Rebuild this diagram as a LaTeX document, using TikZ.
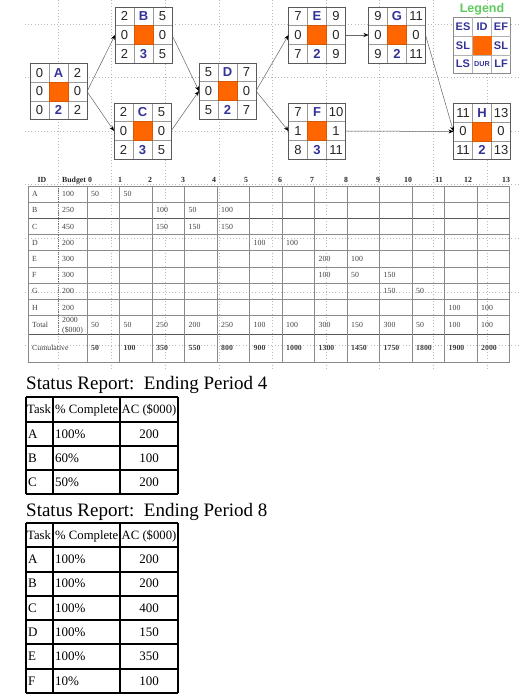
\documentclass[tikz,border=0pt]{standalone}
\usepackage{fontspec}
\setmainfont{Liberation Serif}
\newfontfamily\arialf{Liberation Sans}
\usetikzlibrary{arrows.meta}
\definecolor{pertorange}{HTML}{FF6600}
\definecolor{pertblue}{HTML}{333399}
\definecolor{lgdgreen}{HTML}{5DCB5D}
\definecolor{gridgray}{HTML}{B8B8B8}
\definecolor{tabline}{HTML}{8A8A8A}
\tikzset{
  gridln/.style={draw=gridgray, line width=0.6pt, dash pattern=on 0.8pt off 2.4pt},
  pbox/.style={draw=black!65, line width=0.8pt, fill=white, minimum width=57pt, minimum height=56pt, inner sep=0pt, outer sep=0pt},
  pline/.style={draw=black!40, line width=0.6pt},
  pcore/.style={fill=pertorange, draw=pertorange!85!black, line width=0.4pt},
  ptxt/.style={font=\arialf\fontsize{13}{13}\selectfont, text=black!85, inner sep=0pt},
  pid/.style={font=\arialf\bfseries\fontsize{13}{13}\selectfont, text=pertblue, inner sep=0pt},
  ltxt/.style={font=\arialf\bfseries\fontsize{11}{11}\selectfont, text=pertblue, inner sep=0pt},
  arr/.style={draw=black!60, line width=0.5pt, -{Stealth[length=5pt,width=4pt,black]}},
  tline/.style={draw=tabline, line width=0.6pt},
  tdark/.style={draw=black!65, line width=0.7pt},
  tt/.style={font=\fontsize{7.8}{8.5}\selectfont, text=black!75, inner sep=0pt, anchor=west, text height=5.2pt, text depth=0pt},
  ttb/.style={tt, font=\bfseries\fontsize{7.8}{8.5}\selectfont},
  th/.style={font=\bfseries\fontsize{7.8}{8.5}\selectfont, text=black!85, inner sep=0pt, anchor=base},
  stl/.style={draw=black, line width=1.2pt},
  st/.style={font=\fontsize{13}{15}\selectfont, inner sep=0pt, text height=8.6pt, text depth=0pt},
  sth/.style={font=\fontsize{12.7}{15}\selectfont, inner sep=0pt, text height=8.4pt, text depth=0pt, anchor=west},
  ttl/.style={font=\fontsize{19}{22}\selectfont, inner sep=0pt, anchor=base west},
}
% #1 name, #2 x,y, #3 ES, #4 ID, #5 EF, #6 SL, #7 LS, #8 DUR, #9 LF
\newcommand\pertnode[9]{%
  \node[pbox] (#1) at (#2) {};
  \draw[pline] (#2) ++(-9.5,-28) -- ++(0,56);
  \draw[pline] (#2) ++(9.5,-28) -- ++(0,56);
  \draw[pline] (#2) ++(-28.5,-9.33) -- ++(57,0);
  \draw[pline] (#2) ++(-28.5,9.33) -- ++(57,0);
  \draw[black!65, line width=0.8pt] (#2) ++(-28.5,-28) rectangle ++(57,56);
  \filldraw[pcore] (#2) ++(-9.5,-9.33) rectangle ++(19,18.67);
  \path (#2) ++(-19,-18.67) node[ptxt] (#1-es) {#3};
  \path (#2) ++(0,-18.67) node[pid] (#1-id) {#4};
  \path (#2) ++(19,-18.67) node[ptxt] (#1-ef) {#5};
  \path (#2) ++(-19,0) node[ptxt] (#1-sl) {#6};
  \path (#2) ++(19,0) node[ptxt] (#1-sr) {#6};
  \path (#2) ++(-19,18.67) node[ptxt] (#1-ls) {#7};
  \path (#2) ++(0,18.67) node[pid] (#1-du) {#8};
  \path (#2) ++(19,18.67) node[ptxt] (#1-lf) {#9};
}
\begin{document}
\begin{tikzpicture}[x=1pt,y=-1pt]
\useasboundingbox (0,0) rectangle (520,700);
\fill[white] (0,0) rectangle (520,700);
% background grid
\foreach \gx in {58,111.6,165.2,218.8,272.4,326,379.6,433.2,486.8}
  \draw[gridln] (\gx,0) -- (\gx,370);
\foreach \gy in {24,77.6,131.2,184.8,238.4,292,345.6}
  \draw[gridln] (25,\gy) -- (520,\gy);
% network
\pertnode{A}{58.5,91.5}{0}{A}{2}{0}{0}{2}{2}
\pertnode{B}{143.5,35}{2}{B}{5}{0}{2}{3}{5}
\pertnode{C}{142.5,131}{2}{C}{5}{0}{2}{3}{5}
\pertnode{D}{227.5,91}{5}{D}{7}{0}{5}{2}{7}
\pertnode{E}{317,35}{7}{E}{9}{0}{7}{2}{9}
\pertnode{G}{397,35}{9}{G}{11}{0}{9}{2}{11}
\pertnode{F}{317,131}{7}{F}{10}{1}{8}{3}{11}
\pertnode{H}{482,131.5}{11}{H}{13}{0}{11}{2}{13}
\draw[arr] (A.east) -- (B.west);
\draw[arr] (A.east) -- (C.west);
\draw[arr] (B.east) -- (D.west);
\draw[arr] (C.east) -- (D.west);
\draw[arr] (D.east) -- (E.west);
\draw[arr] (D.east) -- (F.west);
\draw[arr] (E.east) -- (G.west);
\draw[arr] (G.east) -- (H.west);
\draw[arr] (F.east) -- (H.west);
% legend
\node[font=\arialf\bfseries\fontsize{12.5}{12.5}\selectfont, text=lgdgreen, inner sep=0pt] (lgdtitle) at (482,9) {Legend};
\node[pbox, draw=black!45] (L) at (482,45.5) {};
\draw[pline, draw=black!30] (L.center) ++(-9.5,-28) -- ++(0,56);
\draw[pline, draw=black!30] (L.center) ++(9.5,-28) -- ++(0,56);
\draw[pline, draw=black!30] (L.center) ++(-28.5,-9.33) -- ++(57,0);
\draw[pline, draw=black!30] (L.center) ++(-28.5,9.33) -- ++(57,0);
\fill[pertorange] (L.center) ++(-9.5,-9.33) rectangle ++(19,18.67);
\path (L.center) ++(-19,-18.67) node[ltxt] (L-es) {ES};
\path (L.center) ++(0,-18.67) node[ltxt] (L-id) {ID};
\path (L.center) ++(19,-18.67) node[ltxt] (L-ef) {EF};
\path (L.center) ++(-19,0) node[ltxt] (L-sl) {SL};
\path (L.center) ++(19,0) node[ltxt] (L-sr) {SL};
\path (L.center) ++(-19,18.67) node[ltxt] (L-ls) {LS};
\path (L.center) ++(0,18.67) node[ltxt, font=\arialf\bfseries\fontsize{7.2}{7.2}\selectfont] (L-du) {DUR};
\path (L.center) ++(19,18.67) node[ltxt] (L-lf) {LF};
% budget table
\foreach \ty in {186,202.2,218.4,234.6,250.8,267,283.2,299.4,315.6,362}
  \draw[tline] (28,\ty) -- (509.5,\ty);
\draw[tdark] (28,218.4) -- (509.5,218.4);
\draw[tdark] (28,334) -- (509.5,334);
\foreach \tx in {28,87,119.5,152,184.5,217,249.5,282,314.5,347,379.5,412,444.5,477,509.5}
  \draw[tline] (\tx,186) -- (\tx,362);
\draw[draw=black!55, line width=0.6pt, dash pattern=on 1.2pt off 1pt] (58,186) -- (58,334);
% header
\node[th] (h-id) at (42,183) {ID};
\node[th, anchor=base west] (h-bud) at (62,183) {Budget};
\node[th] (h-0) at (90,183) {0};
\foreach \hx [count=\hc] in {120,150,183,214,246,280,312,346,378,408,439,468,506}
  \node[th] (h-\hc) at (\hx,183) {\hc};
% rows
\foreach \r/\lab/\bud/\vals in {
  1/A/100/{1/50,2/50},
  2/B/250/{3/100,4/50,5/100},
  3/C/450/{3/150,4/150,5/150},
  4/D/200/{6/100,7/100},
  5/E/300/{8/200,9/100},
  6/F/300/{8/100,9/50,10/150},
  7/G/200/{10/150,11/50},
  8/H/200/{12/100,13/100}}{
  \pgfmathsetmacro{\ry}{186+16.2*(\r-0.5)}
  \node[tt] (r\r-id) at (32,\ry) {\lab};
  \node[tt] (r\r-b) at (62,\ry) {\bud};
  \foreach \c/\v in \vals {
    \pgfmathsetmacro{\cx}{87+32.5*(\c-1)+4}
    \node[tt] (r\r-c\c) at (\cx,\ry) {\v};
  }
}
\node[tt] (tot-id) at (32,324.8) {Total};
\node[tt] (tot-b1) at (62,320.3) {2000};
\node[tt] (tot-b2) at (62,329.6) {(\$000)};
\foreach \v [count=\c] in {50,50,250,200,250,100,100,300,150,300,50,100,100} {
  \pgfmathsetmacro{\cx}{87+32.5*(\c-1)+4}
  \node[tt] (tot-c\c) at (\cx,324.8) {\v};
}
\node[tt] (cum-id) at (32,348) {Cumulative};
\foreach \v [count=\c] in {50,100,350,550,800,900,1000,1300,1450,1750,1800,1900,2000} {
  \pgfmathsetmacro{\cx}{87+32.5*(\c-1)+4}
  \node[ttb] (cum-c\c) at (\cx,348) {\v};
}
% status report 1
\node[ttl] (title1) at (26,389) {Status Report:\ \ Ending Period 4};
\foreach \sy in {397,422,446,470,494}
  \draw[stl] (26,\sy) -- (178,\sy);
\foreach \sx in {26,53,120,178}
  \draw[stl] (\sx,397) -- (\sx,494);
\node[sth] (s1-h1) at (27,409.5) {Task};
\node[sth] (s1-h2) at (55,409.5) {\% Complete};
\node[sth] (s1-h3) at (121.5,409.5) {AC (\$000)};
\foreach \t/\p/\a [count=\i] in {A/100\%/200, B/60\%/100, C/50\%/200} {
  \pgfmathsetmacro{\sy}{422+24*(\i-0.5)}
  \node[st, anchor=west] (s1-t\i) at (28,\sy) {\t};
  \node[st, anchor=west] (s1-p\i) at (55,\sy) {\p};
  \node[st] (s1-a\i) at (149,\sy) {\a};
}
% status report 2
\node[ttl] (title2) at (26,516) {Status Report:\ \ Ending Period 8};
\foreach \sy in {523,547,572,596,620,644,669,693}
  \draw[stl] (26,\sy) -- (178,\sy);
\foreach \sx in {26,53,120,178}
  \draw[stl] (\sx,523) -- (\sx,693);
\node[sth] (s2-h1) at (27,535) {Task};
\node[sth] (s2-h2) at (55,535) {\% Complete};
\node[sth] (s2-h3) at (121.5,535) {AC (\$000)};
\foreach \t/\p/\a [count=\i] in {A/100\%/200, B/100\%/200, C/100\%/400, D/100\%/150, E/100\%/350, F/10\%/100} {
  \pgfmathsetmacro{\sy}{547+24.33*(\i-0.5)}
  \node[st, anchor=west] (s2-t\i) at (28,\sy) {\t};
  \node[st, anchor=west] (s2-p\i) at (55,\sy) {\p};
  \node[st] (s2-a\i) at (149,\sy) {\a};
}
\end{tikzpicture}
\end{document}
